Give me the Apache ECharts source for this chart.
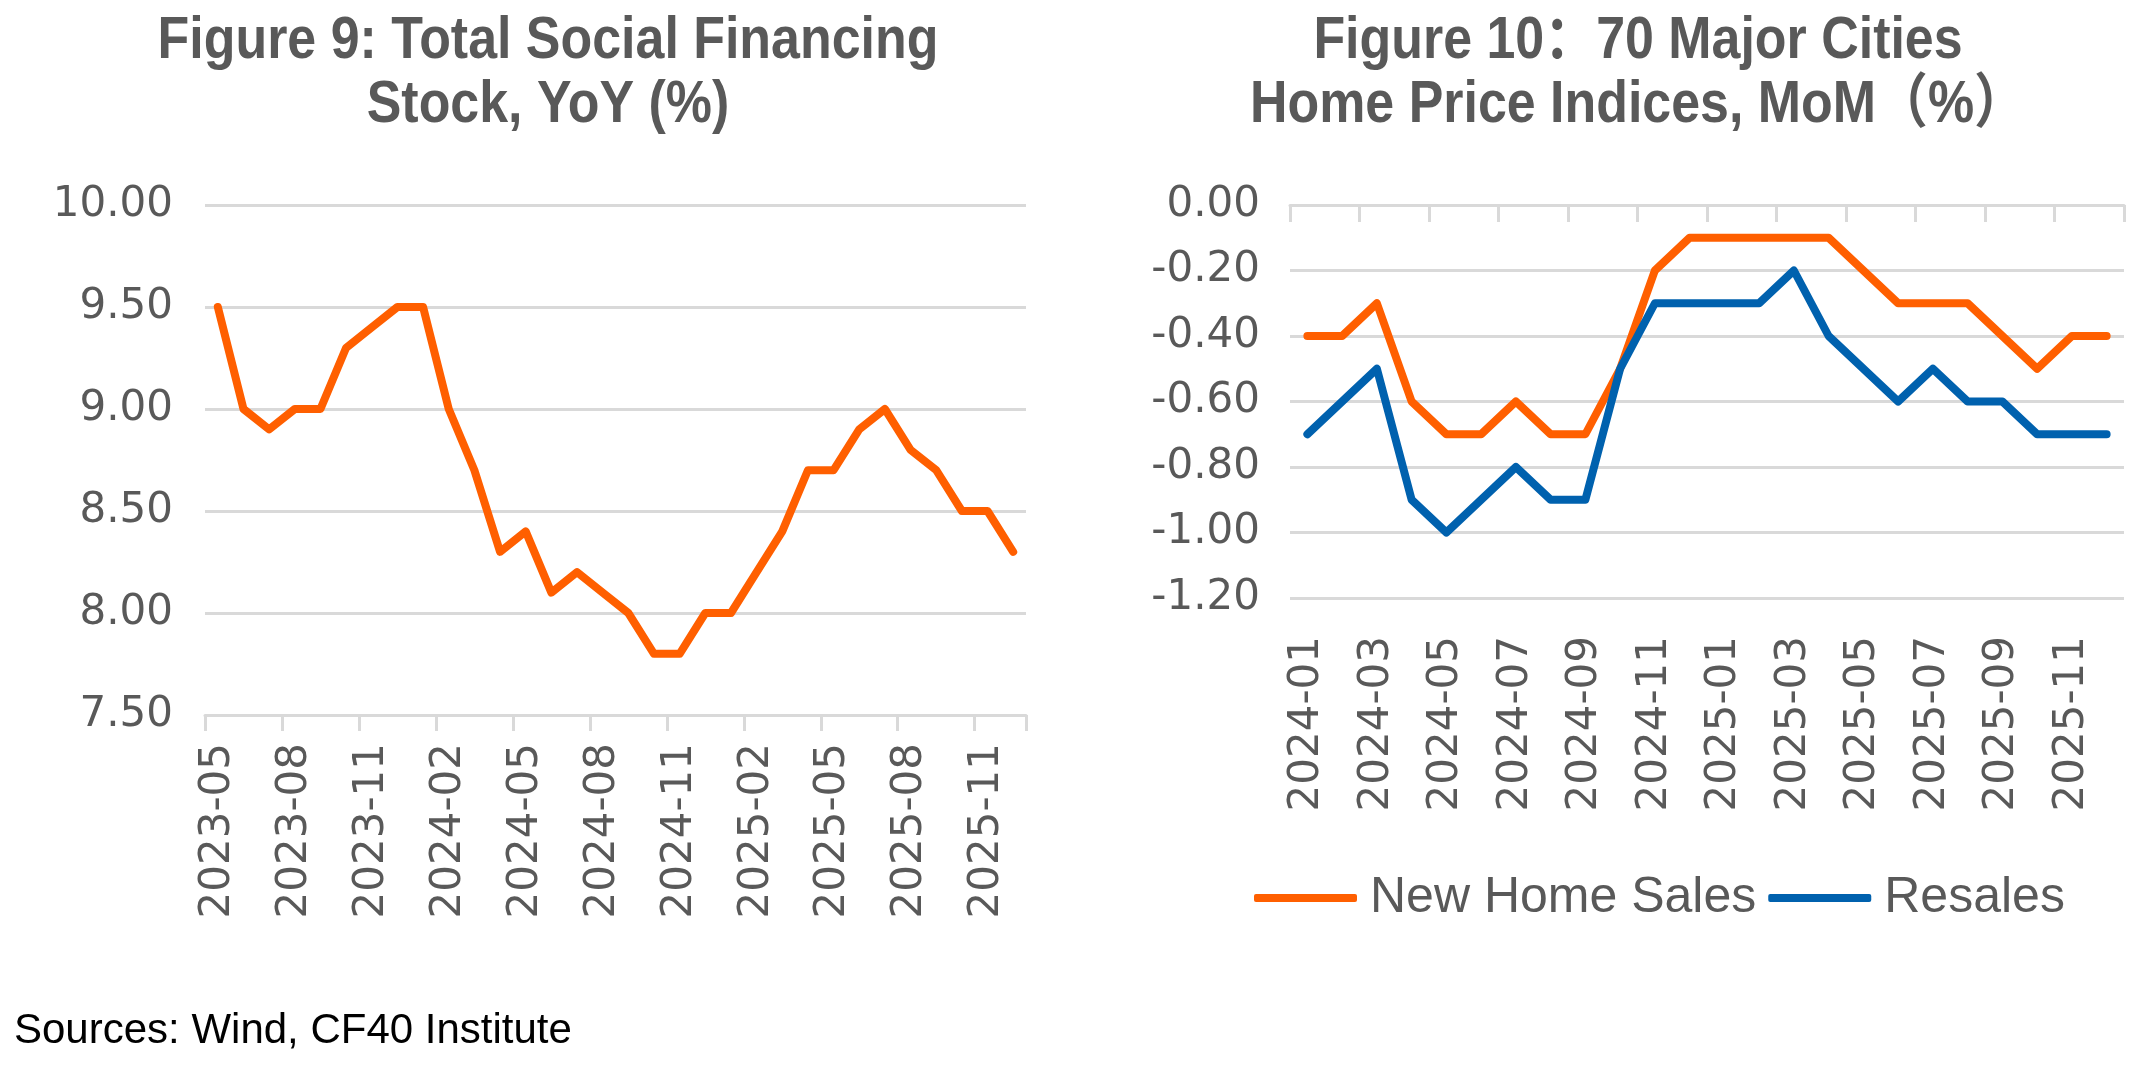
<!DOCTYPE html>
<html>
<head>
<meta charset="utf-8">
<script src="https://cdn.jsdelivr.net/npm/echarts@6/dist/echarts.min.js"></script>
<style>
  html, body { margin: 0; padding: 0; background: #fff; }
  #main { width: 2152px; height: 1066px; }
</style>
</head>
<body>
<div id="main"></div>
<script>
// figure 9 - TSF stock yoy
var tsfMonths = ['2023-05','2023-06','2023-07','2023-08','2023-09','2023-10','2023-11','2023-12',
	'2024-01','2024-02','2024-03','2024-04','2024-05','2024-06','2024-07','2024-08','2024-09','2024-10','2024-11','2024-12',
	'2025-01','2025-02','2025-03','2025-04','2025-05','2025-06','2025-07','2025-08','2025-09','2025-10','2025-11','2025-12'];
var tsfYoY = [9.5, 9.0, 8.9, 9.0, 9.0, 9.3, 9.4, 9.5,
	9.5, 9.0, 8.7, 8.3, 8.4, 8.1, 8.2, 8.1, 8.0, 7.8, 7.8, 8.0,
	8.0, 8.2, 8.4, 8.7, 8.7, 8.9, 9.0, 8.8, 8.7, 8.5, 8.5, 8.3];

// figure 10 - 70 cities home prices mom
var homeMonths = ['2024-01','2024-02','2024-03','2024-04','2024-05','2024-06','2024-07','2024-08','2024-09','2024-10','2024-11','2024-12',
	'2025-01','2025-02','2025-03','2025-04','2025-05','2025-06','2025-07','2025-08','2025-09','2025-10','2025-11','2025-12'];
var newHomeSales = [-0.4, -0.4, -0.3, -0.6, -0.7, -0.7, -0.6, -0.7, -0.7, -0.5, -0.2, -0.1,
	-0.1, -0.1, -0.1, -0.1, -0.2, -0.3, -0.3, -0.3, -0.4, -0.5, -0.4, -0.4];
var resales = [-0.7, -0.6, -0.5, -0.9, -1.0, -0.9, -0.8, -0.9, -0.9, -0.5, -0.3, -0.3,
	-0.3, -0.3, -0.2, -0.4, -0.5, -0.6, -0.5, -0.6, -0.6, -0.7, -0.7, -0.7];

var ORANGE = '#FF5F00';
var BLUE = '#0061AE';
var GREY_TXT = '#595959';
var GRID_CLR = '#D9D9D9';
var labelFont = 'DejaVu Sans';
var titleFont = '"Liberation Sans", "Noto Sans CJK SC", Arial, sans-serif';

function fmt2(v){
	if (Math.abs(v) < 1e-9) v = 0;
	return v.toFixed(2);
}

var gridLine = {show: true, lineStyle: {color: GRID_CLR, width: 3}};
var axisLbl = {fontFamily: labelFont, fontSize: 42, color: GREY_TXT};

// titles are a condensed face in the original, squeeze a bit
function titleText(txt, x, y){
	return {
		type: 'text', x: x, y: y, scaleX: 0.88,
		style: {text: txt, font: 'bold 59px ' + titleFont, fill: GREY_TXT, align: 'center', verticalAlign: 'middle'}
	};
}

var opt = {
	animation: false,
	backgroundColor: '#fff',
	graphic: [
		titleText('Figure 9: Total Social Financing', 548, 42),
		titleText('Stock, YoY (%)', 548, 106),
		titleText('Figure 10：70 Major Cities', 1638, 42),
		titleText('Home Price Indices, MoM（%）', 1638, 106),
		{
			type: 'text', x: 14, y: 1031,
			style: {text: 'Sources: Wind, CF40 Institute', font: '42px "Liberation Sans", Arial, sans-serif', fill: '#000', verticalAlign: 'middle'}
		}
	],
	legend: {
		data: ['New Home Sales', 'Resales'],
		left: 1249, top: 862,
		icon: 'roundRect',
		itemWidth: 103, itemHeight: 8, itemGap: 12,
		textStyle: {fontFamily: titleFont, fontSize: 50, color: GREY_TXT, lineHeight: 62, padding: [0, 0, 0, 8]}
	},
	grid: [
		{left: 205, top: 205, width: 821, height: 510},
		{left: 1290, top: 205, width: 834, height: 393}
	],
	xAxis: [
		{
			type: 'category', gridIndex: 0, data: tsfMonths, boundaryGap: true,
			axisLine: {lineStyle: {color: GRID_CLR, width: 3}},
			axisTick: {show: true, interval: 2, length: 16, lineStyle: {color: GRID_CLR, width: 3}},
			axisLabel: Object.assign({interval: 2, rotate: 90, margin: 28}, axisLbl)
		},
		{
			type: 'category', gridIndex: 1, data: homeMonths, position: 'top', boundaryGap: true,
			axisLine: {onZero: false, lineStyle: {color: GRID_CLR, width: 3}},
			axisTick: {show: true, inside: true, interval: 1, length: 17, lineStyle: {color: GRID_CLR, width: 3}},
			axisLabel: {show: false}
		},
		{
			type: 'category', gridIndex: 1, data: homeMonths, position: 'bottom', boundaryGap: true,
			axisLine: {show: false, onZero: false},
			axisTick: {show: false},
			axisLabel: Object.assign({interval: 1, rotate: 90, margin: 38}, axisLbl)
		}
	],
	yAxis: [
		{
			type: 'value', gridIndex: 0, min: 7.5, max: 10, interval: 0.5,
			axisLine: {show: false}, axisTick: {show: false},
			splitLine: gridLine,
			axisLabel: Object.assign({margin: 32, formatter: fmt2}, axisLbl)
		},
		{
			type: 'value', gridIndex: 1, min: -1.2, max: 0, interval: 0.2,
			axisLine: {show: false}, axisTick: {show: false},
			splitLine: gridLine,
			axisLabel: Object.assign({margin: 30, formatter: fmt2}, axisLbl)
		}
	],
	series: [
		{
			name: 'TSF', type: 'line', xAxisIndex: 0, yAxisIndex: 0, data: tsfYoY,
			symbol: 'none', color: ORANGE,
			lineStyle: {width: 8, join: 'round', cap: 'round'}
		},
		{
			name: 'New Home Sales', type: 'line', xAxisIndex: 1, yAxisIndex: 1, data: newHomeSales,
			symbol: 'none', color: ORANGE,
			lineStyle: {width: 8, join: 'round', cap: 'round'}
		},
		{
			name: 'Resales', type: 'line', xAxisIndex: 1, yAxisIndex: 1, data: resales,
			symbol: 'none', color: BLUE,
			lineStyle: {width: 8, join: 'round', cap: 'round'}
		}
	]
};

var chart = echarts.init(document.getElementById('main'));
chart.setOption(opt);
</script>
</body>
</html>
